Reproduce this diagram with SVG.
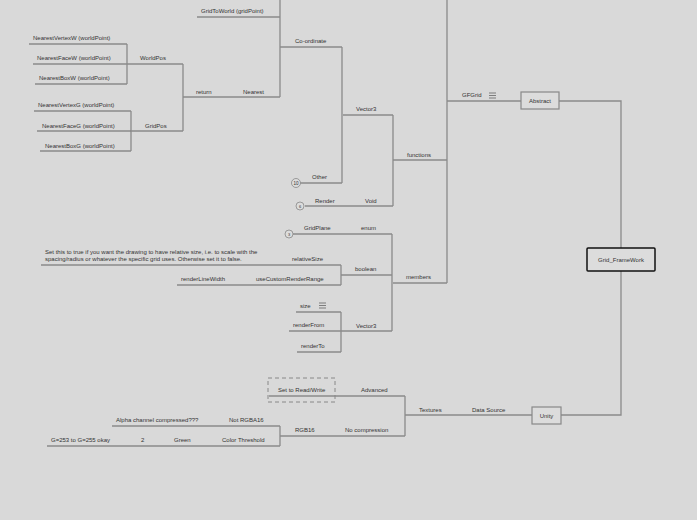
<svg xmlns="http://www.w3.org/2000/svg" width="697" height="520" viewBox="0 0 697 520">
<style>
text{font-family:"Liberation Sans",Arial,sans-serif;font-size:6px;fill:#333}
.c path{fill:none;stroke:#8a8a8a;stroke-width:1.3}
.b{fill:#dcdcdc;stroke:#888;stroke-width:1.2}
.ci{fill:#dcdcdc;stroke:#888;stroke-width:0.8}
</style>
<rect width="697" height="520" fill="#d9d9d9"/>
<g class="c" id="connectors">
<path d="M559 101H621V415H561M621 248V271"/>
<path d="M447 101H521M447 0V283M393 160H447M393 283H447"/>
<path d="M393 115V206M343 115H393M305 206H393"/>
<path d="M342 47V183M280 47H342M300 183H342"/>
<path d="M280 0V97M197 17H280M183 97H280"/>
<path d="M183 64V131M127 64H183M130 131H183"/>
<path d="M127 44V84M29 44H127M33 64H127M35 84H127"/>
<path d="M131 111V151M34 111H131M37 131H131M40 151H131"/>
<path d="M392 234V331M293 234H392M341 275H392M341 331H392"/>
<path d="M341 265V285M41 265H341M177 285H341"/>
<path d="M341 312V352M296 312H341M289 331H341M297 352H341"/>
<path d="M405 415H532M405 396V436M269 396H405M280 436H405"/>
<path d="M280 426V446M112 426H280M47 446H280"/>
</g>
<g id="root"><rect x="587" y="248" width="68" height="23" fill="#dcdcdc" stroke="#111" stroke-width="1.5" rx="1"/><text x="621" y="262" text-anchor="middle">Grid_FrameWork</text></g>
<g id="abstract"><rect class="b" x="521" y="92" width="38" height="17"/><text x="540" y="102.5" text-anchor="middle">Abstract</text></g>
<g id="unity"><rect class="b" x="532" y="407" width="29" height="17"/><text x="546.5" y="417.5" text-anchor="middle">Unity</text></g>
<g id="gfgrid"><text x="462" y="97">GFGrid</text><path d="M489 93h7M489 95.5h7M489 98h7" stroke="#555" stroke-width="0.7"/></g>
<g id="functions"><text x="407" y="157">functions</text></g>
<g id="members"><text x="406" y="279">members</text></g>
<g id="vector3f"><text x="356" y="111">Vector3</text></g>
<g id="void"><text x="315" y="203">Render</text><text x="365" y="203">Void</text><circle class="ci" cx="300" cy="206" r="4"/><text x="300" y="208" text-anchor="middle" style="font-size:4px">6</text></g>
<g id="coord"><text x="295" y="43">Co-ordinate</text></g>
<g id="other"><text x="312" y="179">Other</text><circle class="ci" cx="296" cy="183" r="4.5"/><text x="296" y="185" text-anchor="middle" style="font-size:4.5px">10</text></g>
<g id="gtw"><text x="201" y="13">GridToWorld (gridPoint)</text></g>
<g id="nearest"><text x="196" y="94">return</text><text x="243" y="94">Nearest</text></g>
<g id="worldpos"><text x="140" y="60">WorldPos</text></g>
<g id="gridpos"><text x="145" y="128">GridPos</text></g>
<g id="w1"><text x="33" y="40">NearestVertexW (worldPoint)</text></g>
<g id="w2"><text x="37" y="60">NearestFaceW (worldPoint)</text></g>
<g id="w3"><text x="39" y="80">NearestBoxW (worldPoint)</text></g>
<g id="g1"><text x="38" y="107">NearestVertexG (worldPoint)</text></g>
<g id="g2"><text x="42" y="128">NearestFaceG (worldPoint)</text></g>
<g id="g3"><text x="45" y="148">NearestBoxG (worldPoint)</text></g>
<g id="enum"><circle class="ci" cx="289" cy="234" r="4"/><text x="289" y="236" text-anchor="middle" style="font-size:4px">3</text><text x="304" y="230">GridPlane</text><text x="361" y="230">enum</text></g>
<g id="boolean"><text x="355" y="271">boolean</text></g>
<g id="vector3m"><text x="356" y="328">Vector3</text></g>
<g id="relsize"><text x="45" y="254">Set this to true if you want the drawing to have relative size, i.e. to scale with the</text><text x="45" y="261">spacing/radius or whatever the specific grid uses. Otherwise set it to false.</text><text x="292" y="261">relativeSize</text></g>
<g id="ucrr"><text x="181" y="281">renderLineWidth</text><text x="256" y="281">useCustomRenderRange</text></g>
<g id="size"><text x="300" y="308">size</text><path d="M319 303h7M319 305.5h7M319 308h7" stroke="#555" stroke-width="0.7"/></g>
<g id="rfrom"><text x="293" y="327">renderFrom</text></g>
<g id="rto"><text x="301" y="348">renderTo</text></g>
<g id="datasource"><text x="419" y="412">Textures</text><text x="472" y="412">Data Source</text></g>
<g id="advanced"><rect x="268" y="378" width="67" height="24" fill="none" stroke="#888" stroke-width="1" stroke-dasharray="4,3"/><text x="278" y="392">Set to Read/Write</text><text x="361" y="392">Advanced</text></g>
<g id="nocomp"><text x="295" y="432">RGB16</text><text x="345" y="432">No compression</text></g>
<g id="alpha"><text x="116" y="422">Alpha channel compressed???</text><text x="229" y="422">Not RGBA16</text></g>
<g id="thresh"><text x="51" y="442">G=253 to G=255 okay</text><text x="141" y="442">2</text><text x="174" y="442">Green</text><text x="222" y="442">Color Threshold</text></g>
</svg>
